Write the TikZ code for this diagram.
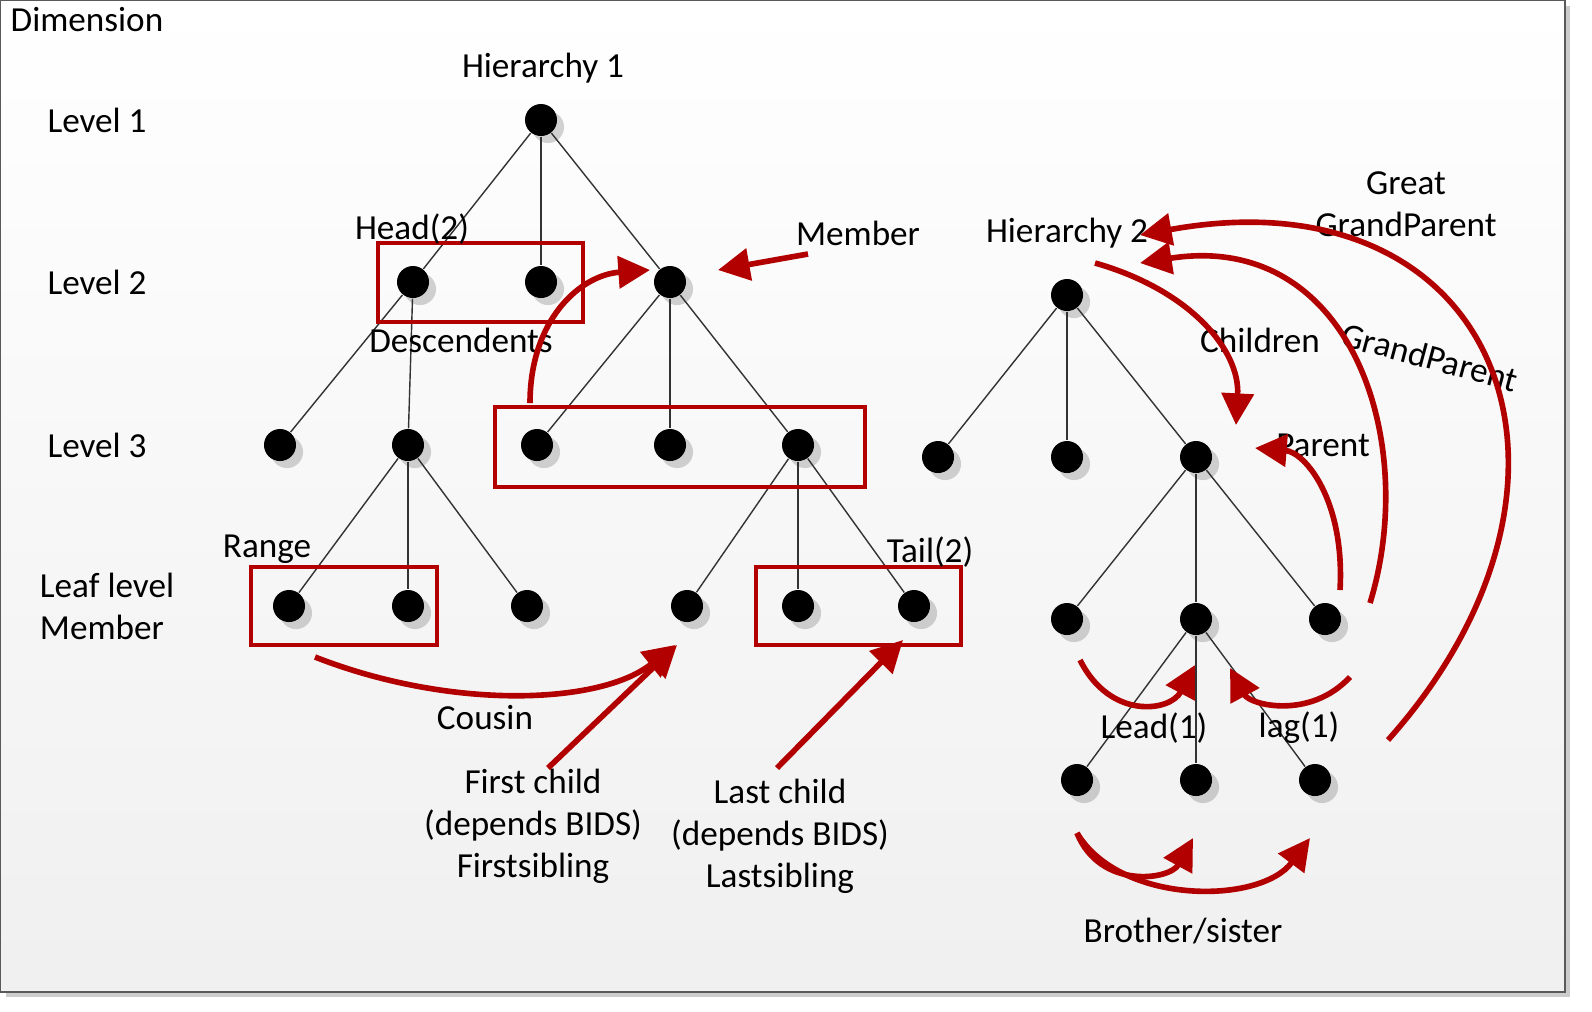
\documentclass[tikz,border=0pt]{standalone}
\usepackage{fontspec}
\setmainfont{Carlito}
\usetikzlibrary{shadows,arrows.meta,positioning}

\begin{document}
\begin{tikzpicture}[x=0.01cm,y=-0.01cm,font=\fontsize{10}{12}\selectfont,
  dot/.style={circle,fill=black,minimum size=0.32cm,inner sep=0pt,
    drop shadow={shadow xshift=2pt,shadow yshift=-2pt,opacity=0.35}},
  edge/.style={gray!40!black,line width=0.4pt},
  box/.style={draw=red!70!black,line width=1.4pt},
  redarrow/.style={draw=red!70!black,line width=1.6pt,-{Triangle[length=9pt,width=9pt]}},
  lbl/.style={align=center,inner sep=1pt}]

\useasboundingbox (0,0) rectangle (1592,1011);

% Background
\fill[gray!40] (6,6) rectangle (1570,997);
\shade[top color=white,bottom color=gray!12,draw=gray!70!black] (0,0) rectangle (1565,992);

% Hierarchy 1
\node[dot] (r1) at (541,120) {};
\node[dot] (a1) at (413,282) {};
\node[dot] (a2) at (541,282) {};
\node[dot] (a3) at (670,282) {};
\node[dot] (b1) at (280,445) {};
\node[dot] (b2) at (408,445) {};
\node[dot] (b3) at (537,445) {};
\node[dot] (b4) at (670,445) {};
\node[dot] (b5) at (798,445) {};
\node[dot] (c1) at (289,606) {};
\node[dot] (c2) at (408,606) {};
\node[dot] (c3) at (527,606) {};
\node[dot] (c4) at (687,606) {};
\node[dot] (c5) at (798,606) {};
\node[dot] (c6) at (914,606) {};

\draw[edge] (r1) -- (a1) -- (b1);
\draw[edge] (r1) -- (a2);
\draw[edge] (r1) -- (a3);
\draw[edge] (a1) -- (b2);
\draw[edge] (a3) -- (b3);
\draw[edge] (a3) -- (b4);
\draw[edge] (a3) -- (b5);
\draw[edge] (b2) -- (c1);
\draw[edge] (b2) -- (c2);
\draw[edge] (b2) -- (c3);
\draw[edge] (b5) -- (c4);
\draw[edge] (b5) -- (c5);
\draw[edge] (b5) -- (c6);

% Hierarchy 2
\node[dot] (r2) at (1067,295) {};
\node[dot] (d1) at (938,457) {};
\node[dot] (d2) at (1067,457) {};
\node[dot] (d3) at (1196,457) {};
\node[dot] (e1) at (1067,619) {};
\node[dot] (e2) at (1196,619) {};
\node[dot] (e3) at (1325,619) {};
\node[dot] (f1) at (1077,780) {};
\node[dot] (f2) at (1196,780) {};
\node[dot] (f3) at (1315,780) {};

\draw[edge] (r2) -- (d1);
\draw[edge] (r2) -- (d2);
\draw[edge] (r2) -- (d3);
\draw[edge] (d3) -- (e1);
\draw[edge] (d3) -- (e2);
\draw[edge] (d3) -- (e3);
\draw[edge] (e2) -- (f1);
\draw[edge] (e2) -- (f2);
\draw[edge] (e2) -- (f3);

% Boxes
\draw[box] (378,243) rectangle (583,322);
\draw[box] (495,407) rectangle (865,487);
\draw[box] (251,567) rectangle (437,645);
\draw[box] (756,567) rectangle (961,645);

% Labels
\node[lbl] (dim) at (87,20) {Dimension};
\node[lbl] (h1) at (543,68) {Hierarchy 1};
\node[lbl] (l1) at (97,120) {Level 1};
\node[lbl] (l2) at (97,282) {Level 2};
\node[lbl] (l3) at (97,445) {Level 3};
\node[lbl,align=left] (l4) at (107,606) {Leaf level\\Member};
\node[lbl] (head) at (412,229) {Head(2)};
\node[lbl] (desc) at (461,340) {Descendents};
\node[lbl] (mem) at (858,233) {Member};
\node[lbl] (h2) at (1067,233) {Hierarchy 2};
\node[lbl] (ggp) at (1406,204) {Great\\GrandParent};
\node[lbl] (chl) at (1260,340) {Children};
\node[lbl,rotate=-15] (gp) at (1430,357) {GrandParent};
\node[lbl] (par) at (1323,445) {Parent};
\node[lbl] (rng) at (267,549) {Range};
\node[lbl] (tail) at (930,552) {Tail(2)};
\node[lbl] (cous) at (485,718) {Cousin};
\node[lbl] (fc) at (533,826) {First child\\(depends BIDS)\\Firstsibling};
\node[lbl] (lc) at (780,836) {Last child\\(depends BIDS)\\Lastsibling};
\node[lbl] (lead) at (1154,728) {Lead(1)};
\node[lbl] (lag) at (1299,728) {lag(1)};
\node[lbl] (bro) at (1183,931) {Brother/sister};

% Red arrows
\coordinate (mS) at (808,254);
\coordinate (mE) at (718,270);
\draw[redarrow] (mS) -- (mE);
\draw[redarrow] (530,403) .. controls (530,320) and (580,275) .. (650,270);
\draw[redarrow] (315,657) .. controls (450,710) and (600,705) .. (675,645);
\draw[redarrow] (548,768) -- (677,645);
\draw[redarrow] (777,768) -- (903,640);
\draw[redarrow] (1095,263) .. controls (1190,290) and (1240,350) .. (1236,425);
\draw[redarrow] (1340,590) .. controls (1345,500) and (1305,452) .. (1255,448);
\draw[redarrow] (1370,603) .. controls (1420,440) and (1350,230) .. (1140,263);
\draw[redarrow] (1388,740) .. controls (1620,480) and (1500,170) .. (1140,235);
\draw[redarrow] (1080,660) .. controls (1110,720) and (1170,712) .. (1195,665);
\draw[redarrow] (1350,677) .. controls (1310,720) and (1250,705) .. (1230,668);
\draw[redarrow] (1077,833) .. controls (1100,890) and (1170,880) .. (1193,838);
\draw[redarrow] (1077,833) .. controls (1120,905) and (1260,905) .. (1310,838);

\end{tikzpicture}
\end{document}
